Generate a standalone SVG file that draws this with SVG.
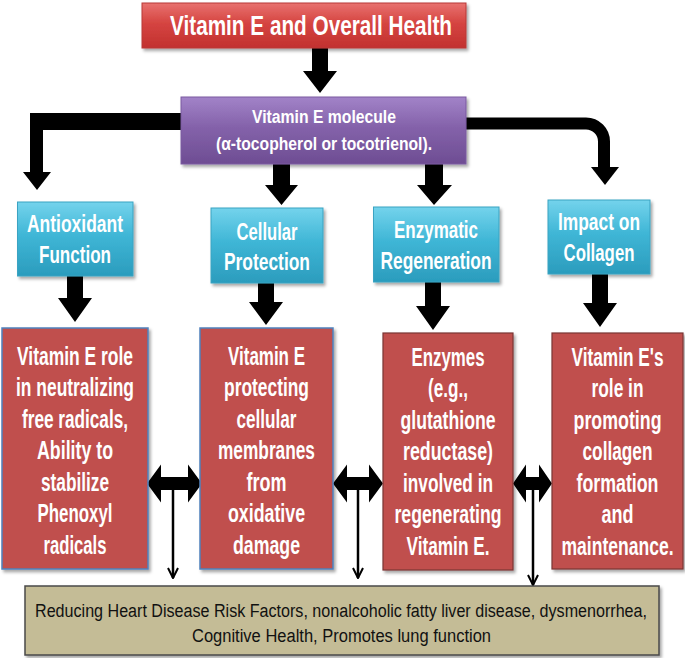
<svg xmlns="http://www.w3.org/2000/svg" width="685" height="658" viewBox="0 0 685 658">
<defs>
<linearGradient id="gTitle" x1="0" y1="0" x2="0" y2="1"><stop offset="0" stop-color="#e8726f"/><stop offset="0.45" stop-color="#d54441"/><stop offset="1" stop-color="#c2312f"/></linearGradient>
<linearGradient id="gPurple" x1="0" y1="0" x2="0" y2="1"><stop offset="0" stop-color="#a283c8"/><stop offset="0.45" stop-color="#8462aa"/><stop offset="1" stop-color="#6e4d93"/></linearGradient>
<linearGradient id="gCyan" x1="0" y1="0" x2="0" y2="1"><stop offset="0" stop-color="#74d3ec"/><stop offset="0.45" stop-color="#3fb6d6"/><stop offset="1" stop-color="#2b9cbd"/></linearGradient>
<filter id="sh" x="-10%" y="-10%" width="130%" height="130%"><feDropShadow dx="2" dy="2.5" stdDeviation="1.5" flood-color="#000" flood-opacity="0.35"/></filter>
<marker id="thin" viewBox="0 0 12 12" refX="11" refY="6" markerWidth="12" markerHeight="12" markerUnits="userSpaceOnUse" orient="auto"><path d="M1,1 L11,6 L1,11" fill="none" stroke="#000" stroke-width="2"/></marker>
</defs>
<style>
.w{font-family:"Liberation Sans",Arial,sans-serif;font-weight:bold;fill:#fff;text-anchor:middle}
.rt{font-size:25px}
.ct{font-size:24px}
.blk{fill:#000}
.red{fill:#c0504d;filter:url(#sh)}
.cy{fill:url(#gCyan);stroke:#3aa3c2;stroke-width:1;filter:url(#sh)}
.bt{font-family:"Liberation Sans",Arial,sans-serif;font-size:19px;fill:#111;text-anchor:middle}
</style>
<rect width="685" height="658" fill="#fff"/>

<g id="connectors">
<polygon class="blk" points="312,48 328,48 328,71 337,71 320,93 303,71 312,71"/>
<polygon class="blk" points="181,113 30,113 30,172 23,172 37,190 51,172 43,172 43,130 181,130"/>
<path d="M465,123.5 H586 A18,18 0 0 1 604,141.5 V168" fill="none" stroke="#000" stroke-width="12"/>
<polygon class="blk" points="591,167 619,167 605,185"/>
<polygon class="blk" points="273,164 290,164 290,185 298,185 281.5,205 265,185 273,185"/>
<polygon class="blk" points="425,164 443,164 443,185 452,185 434,205 417,185 425,185"/>
<polygon class="blk" points="67,276 83,276 83,298 92,298 75,322 58,298 67,298"/>
<polygon class="blk" points="258,283 274,283 274,302 283,302 266,325 249,302 258,302"/>
<polygon class="blk" points="425,282 441,282 441,306 450,306 433,330 416,306 425,306"/>
<polygon class="blk" points="592,274 608,274 608,303 617,303 600,327 583,303 592,303"/>
<polygon class="blk" points="147,483.5 161,464.5 161,477 188,477 188,464.5 202,483.5 188,502.5 188,490 161,490 161,502.5"/>
<polygon class="blk" points="333,483.5 347,464.5 347,477 369,477 369,464.5 383,483.5 369,502.5 369,490 347,490 347,502.5"/>
<polygon class="blk" points="513,483.5 526,464.5 526,477 539,477 539,464.5 552,483.5 539,502.5 539,490 526,490 526,502.5"/>
<line x1="173" y1="489" x2="173" y2="578" stroke="#000" stroke-width="2.5" marker-end="url(#thin)"/>
<line x1="358" y1="489" x2="358" y2="578" stroke="#000" stroke-width="2.5" marker-end="url(#thin)"/>
<line x1="533" y1="489" x2="533" y2="585" stroke="#000" stroke-width="2.5" marker-end="url(#thin)"/>
</g>

<g id="title">
<rect x="142" y="3" width="324" height="45" fill="url(#gTitle)" stroke="#b83a37" stroke-width="1" filter="url(#sh)"/>
<text class="w" x="311" y="35" font-size="28" textLength="282" lengthAdjust="spacingAndGlyphs">Vitamin E and Overall Health</text>
</g>

<g id="molecule">
<rect x="181" y="97" width="285" height="67" fill="url(#gPurple)" stroke="#7a5aa0" stroke-width="1" filter="url(#sh)"/>
<text class="w" x="324" y="123" font-size="18" textLength="144" lengthAdjust="spacingAndGlyphs">Vitamin E molecule</text>
<text class="w" x="324" y="150" font-size="18" textLength="216" lengthAdjust="spacingAndGlyphs">(α-tocopherol or tocotrienol).</text>
</g>

<g id="antioxidant">
<rect class="cy" x="17.5" y="202" width="115.5" height="74"/>
<text class="w ct" x="75" y="232" textLength="96" lengthAdjust="spacingAndGlyphs">Antioxidant</text>
<text class="w ct" x="75" y="263" textLength="72" lengthAdjust="spacingAndGlyphs">Function</text>
</g>

<g id="cellular">
<rect class="cy" x="211" y="208" width="112" height="75"/>
<text class="w ct" x="267" y="240" textLength="61" lengthAdjust="spacingAndGlyphs">Cellular</text>
<text class="w ct" x="267" y="270" textLength="86" lengthAdjust="spacingAndGlyphs">Protection</text>
</g>

<g id="enzymatic">
<rect class="cy" x="373.5" y="207" width="125.5" height="75"/>
<text class="w ct" x="436" y="238" textLength="84" lengthAdjust="spacingAndGlyphs">Enzymatic</text>
<text class="w ct" x="436" y="269" textLength="111" lengthAdjust="spacingAndGlyphs">Regeneration</text>
</g>

<g id="collagen">
<rect class="cy" x="548" y="200" width="102" height="74"/>
<text class="w ct" x="599" y="230" textLength="82" lengthAdjust="spacingAndGlyphs">Impact on</text>
<text class="w ct" x="599" y="261" textLength="71" lengthAdjust="spacingAndGlyphs">Collagen</text>
</g>

<g id="box-antioxidant">
<rect class="red" x="2" y="328" width="146" height="241" stroke="#4f81bd" stroke-width="1.5"/>
<g transform="translate(75 0) scale(0.75 1)">
<text class="w rt" x="0" y="365" textLength="154.7" lengthAdjust="spacingAndGlyphs">Vitamin E role</text>
<text class="w rt" x="0" y="396.5" textLength="157.3" lengthAdjust="spacingAndGlyphs">in neutralizing</text>
<text class="w rt" x="0" y="428" textLength="141.3" lengthAdjust="spacingAndGlyphs">free radicals,</text>
<text class="w rt" x="0" y="459.5" textLength="101.3" lengthAdjust="spacingAndGlyphs">Ability to</text>
<text class="w rt" x="0" y="491" textLength="90.7" lengthAdjust="spacingAndGlyphs">stabilize</text>
<text class="w rt" x="0" y="522.5" textLength="100" lengthAdjust="spacingAndGlyphs">Phenoxyl</text>
<text class="w rt" x="0" y="554" textLength="84" lengthAdjust="spacingAndGlyphs">radicals</text>
</g>
</g>

<g id="box-cellular">
<rect class="red" x="200" y="328" width="133" height="241" stroke="#4f81bd" stroke-width="1.5"/>
<g transform="translate(266.5 0) scale(0.75 1)">
<text class="w rt" x="0" y="365" textLength="102.7" lengthAdjust="spacingAndGlyphs">Vitamin E</text>
<text class="w rt" x="0" y="396.5" textLength="113.3" lengthAdjust="spacingAndGlyphs">protecting</text>
<text class="w rt" x="0" y="428" textLength="80" lengthAdjust="spacingAndGlyphs">cellular</text>
<text class="w rt" x="0" y="459.5" textLength="129.3" lengthAdjust="spacingAndGlyphs">membranes</text>
<text class="w rt" x="0" y="491" textLength="53.3" lengthAdjust="spacingAndGlyphs">from</text>
<text class="w rt" x="0" y="522.5" textLength="102.7" lengthAdjust="spacingAndGlyphs">oxidative</text>
<text class="w rt" x="0" y="554" textLength="89.3" lengthAdjust="spacingAndGlyphs">damage</text>
</g>
</g>

<g id="box-enzymatic">
<rect class="red" x="383" y="333" width="130" height="237" stroke="#7a3432" stroke-width="1.2"/>
<g transform="translate(448 0) scale(0.75 1)">
<text class="w rt" x="0" y="366" textLength="97.3" lengthAdjust="spacingAndGlyphs">Enzymes</text>
<text class="w rt" x="0" y="397.5" textLength="53.3" lengthAdjust="spacingAndGlyphs">(e.g.,</text>
<text class="w rt" x="0" y="429" textLength="126.7" lengthAdjust="spacingAndGlyphs">glutathione</text>
<text class="w rt" x="0" y="460.5" textLength="120" lengthAdjust="spacingAndGlyphs">reductase)</text>
<text class="w rt" x="0" y="492" textLength="120" lengthAdjust="spacingAndGlyphs">involved in</text>
<text class="w rt" x="0" y="523.5" textLength="142.7" lengthAdjust="spacingAndGlyphs">regenerating</text>
<text class="w rt" x="0" y="555" textLength="110.7" lengthAdjust="spacingAndGlyphs">Vitamin E.</text>
</g>
</g>

<g id="box-collagen">
<rect class="red" x="552" y="333" width="131" height="236" stroke="#7a3432" stroke-width="1.2"/>
<g transform="translate(617.5 0) scale(0.75 1)">
<text class="w rt" x="0" y="366" textLength="122.7" lengthAdjust="spacingAndGlyphs">Vitamin E's</text>
<text class="w rt" x="0" y="397.5" textLength="69.3" lengthAdjust="spacingAndGlyphs">role in</text>
<text class="w rt" x="0" y="429" textLength="117.3" lengthAdjust="spacingAndGlyphs">promoting</text>
<text class="w rt" x="0" y="460.5" textLength="93.3" lengthAdjust="spacingAndGlyphs">collagen</text>
<text class="w rt" x="0" y="492" textLength="109.3" lengthAdjust="spacingAndGlyphs">formation</text>
<text class="w rt" x="0" y="523.5" textLength="42.7" lengthAdjust="spacingAndGlyphs">and</text>
<text class="w rt" x="0" y="555" textLength="149.3" lengthAdjust="spacingAndGlyphs">maintenance.</text>
</g>
</g>

<g id="outcomes">
<rect x="25" y="586" width="634" height="69" fill="#c4bc96" stroke="#4a4a4a" stroke-width="1.5" filter="url(#sh)"/>
<g transform="translate(341 0) scale(0.82 1)">
<text class="bt" x="0" y="617" textLength="746.3" lengthAdjust="spacingAndGlyphs">Reducing Heart Disease Risk Factors, nonalcoholic fatty liver disease, dysmenorrhea,</text>
<text class="bt" x="0.6" y="642" textLength="364.6" lengthAdjust="spacingAndGlyphs">Cognitive Health, Promotes lung function</text>
</g>
</g>
</svg>
